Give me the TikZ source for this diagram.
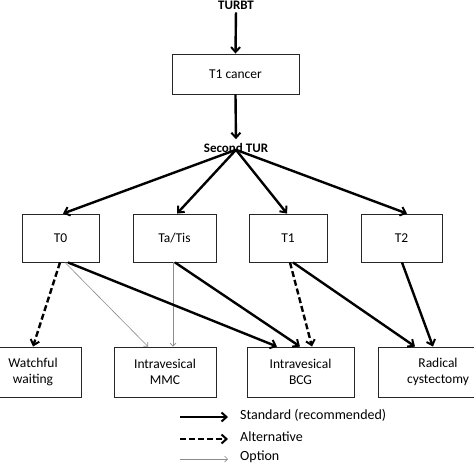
\documentclass[tikz,border=0pt]{standalone}
\usepackage{fontspec}
\setmainfont{Carlito}
\usetikzlibrary{arrows.meta}
\begin{document}
\begin{tikzpicture}[x=1pt,y=-1pt,
  box/.style={draw=black!85,line width=0.9pt,inner sep=0pt,align=center,font=\fontsize{13.5}{15.5}\selectfont},
  lbl/.style={inner sep=0pt,font=\bfseries\fontsize{13}{15}\selectfont},
  std/.style={line width=2.4pt,-{Straight Barb[length=5pt,width=9pt,line width=2pt]}},
  alt/.style={line width=2.4pt,dash pattern=on 6pt off 3pt,-{Straight Barb[length=5pt,width=9pt,line width=2pt]}},
  opt/.style={line width=0.6pt,draw=black!45,-{Straight Barb[length=3pt,width=6pt,line width=0.6pt]}},
  lgtext/.style={anchor=west,inner sep=0pt,font=\fontsize{14}{16}\selectfont}]
\useasboundingbox (0,0) rectangle (474,474);
\clip (0,0) rectangle (474,474);
\fill[white] (0,0) rectangle (474,474);

\node[lbl] (turbt) at (236,5) {TURBT};
\node[box,minimum width=127pt,minimum height=40pt] (t1c) at (235.5,74) {T1 cancer};
\node[lbl] (sec) at (236,148) {Second TUR};

\node[box,minimum width=77pt,minimum height=48pt] (t0) at (60.5,238) {T0};
\node[box,minimum width=83pt,minimum height=48pt] (tat) at (174.5,238) {Ta/Tis};
\node[box,minimum width=78pt,minimum height=48pt] (t1) at (288,238) {T1};
\node[box,minimum width=81pt,minimum height=48pt] (t2) at (401.5,238) {T2};

\node[box,minimum width=96pt,minimum height=50pt] (ww) at (33,372) {Watchful\\waiting};
\node[box,minimum width=102pt,minimum height=50pt] (mmc) at (165,372) {Intravesical\\MMC};
\node[box,minimum width=107pt,minimum height=50pt] (bcg) at (300.5,372) {Intravesical\\BCG};
\node[box,minimum width=120pt,minimum height=50pt] (rc) at (438,372) {Radical\\cystectomy};

\draw[std,shorten <=3pt] (turbt.south) -- (t1c.north);
\draw[std,shorten >=4pt] (t1c.south) -- (sec.north);
\draw[std] ([yshift=3pt]sec.south) -- ([xshift=2.5pt]t0.north);
\draw[std] ([yshift=3pt]sec.south) -- ([xshift=2.5pt]tat.north);
\draw[std] ([yshift=3pt]sec.south) -- ([xshift=-1pt]t1.north);
\draw[std] ([yshift=3pt]sec.south) -- ([xshift=5.5pt]t2.north);

\draw[opt] ([xshift=4.5pt]t0.south) -- ([xshift=-17pt]mmc.north);
\draw[opt] ([xshift=-1.5pt]tat.south) -- ([xshift=8pt]mmc.north);
\draw[alt] ([xshift=-0.5pt]t0.south) -- (ww.north);
\draw[std] ([xshift=7.5pt]t0.south) -- ([xshift=-23.5pt]bcg.north);
\draw[std] ([xshift=0.5pt]tat.south) -- ([xshift=-0.5pt]bcg.north);
\draw[alt] ([xshift=2pt]t1.south) -- ([xshift=11.5pt]bcg.north);
\draw[std] ([xshift=5pt]t1.south) -- ([xshift=-23pt]rc.north);
\draw[std] ([xshift=0.5pt]t2.south) -- ([xshift=-5pt]rc.north);

\coordinate (l1a) at (180,417); \coordinate (l1b) at (228,417);
\coordinate (l2a) at (180,439); \coordinate (l2b) at (228,439);
\coordinate (l3a) at (180,459); \coordinate (l3b) at (228,459);
\draw[std] (l1a) -- (l1b);
\draw[alt] (l2a) -- (l2b);
\draw[opt] (l3a) -- (l3b);
\node[lgtext] (t1txt) at (240,415) {Standard (recommended)};
\node[lgtext] (t2txt) at (240,437) {Alternative};
\node[lgtext] (t3txt) at (240,457) {Option};
\end{tikzpicture}
\end{document}
